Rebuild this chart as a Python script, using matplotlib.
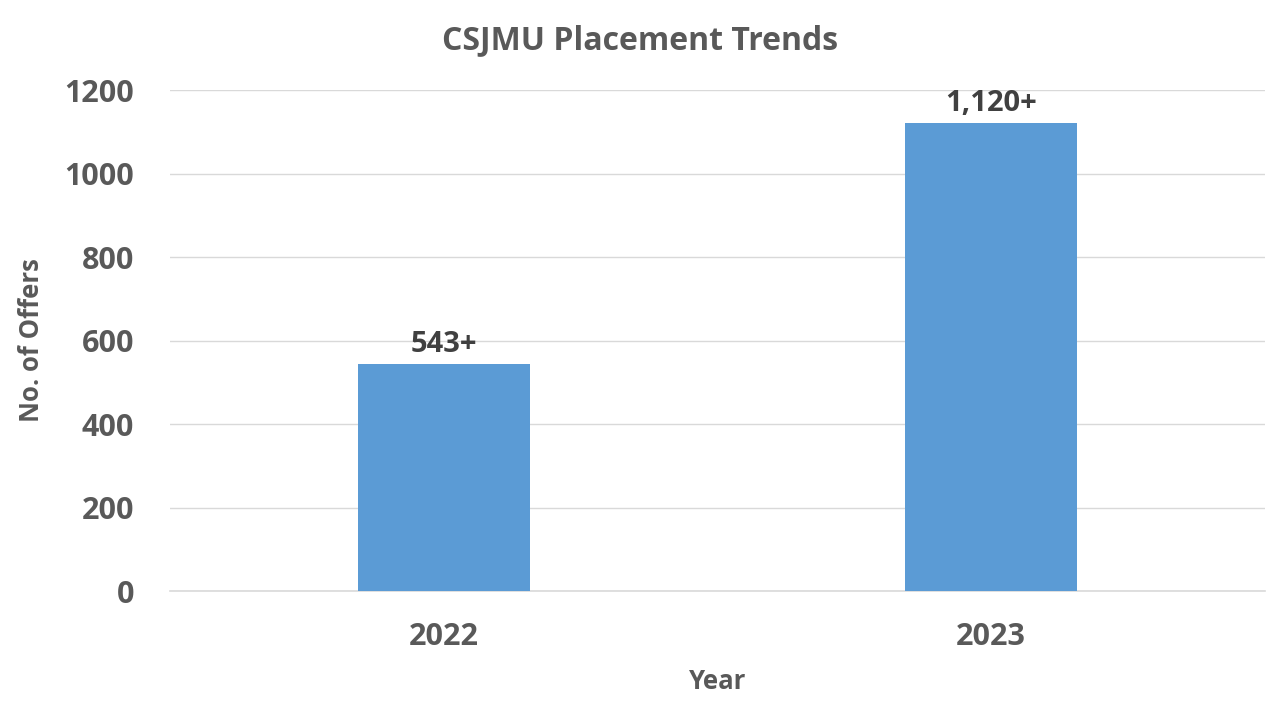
import matplotlib
matplotlib.use("Agg")
import matplotlib.pyplot as plt

years = ["2022", "2023"]
offers = [543, 1120]
labels = ["543+", "1,120+"]
yticks = [0, 200, 400, 600, 800, 1000, 1200]

plt.rcParams['font.family'] = ['Open Sans', 'DejaVu Sans']
grey = "#595959"
fig = plt.figure(figsize=(12.8, 7.2), dpi=100)
ax = fig.add_axes([0.133, 0.179, 0.855, 0.696])
x = range(len(years))
ax.bar(x, offers, width=0.314, color="#5B9BD5", zorder=3)
for xi, v, l in zip(x, offers, labels):
    ax.text(xi, v + 14, l, ha="center", va="bottom", fontsize=21, fontweight="bold", color="#404040")
ax.set_xlim(-0.5, 1.5)
ax.set_ylim(0, 1200)
ax.set_yticks(yticks)
ax.set_xticks(list(x))
ax.set_xticklabels(years)
ax.tick_params(length=0, labelsize=22, labelcolor=grey)
ax.tick_params(axis="y", pad=26)
for t in ax.get_xticklabels() + ax.get_yticklabels():
    t.set_fontweight("bold")
ax.tick_params(axis="x", pad=22)
ax.grid(axis="y", color="#D9D9D9", linewidth=1, zorder=0)
ax.axhline(0, color="#D9D9D9", linewidth=1.2, zorder=2, clip_on=False)
for s in ax.spines.values():
    s.set_visible(False)
ax.set_ylabel("No. of Offers", fontsize=18.5, fontweight="bold", color=grey, labelpad=14)
ax.set_xlabel("Year", fontsize=18.5, fontweight="bold", color=grey, labelpad=12)
fig.text(0.5, 0.943, "CSJMU Placement Trends", ha="center", va="center", fontsize=23, fontweight="bold", color=grey)
fig.savefig("out.png", dpi=100)
